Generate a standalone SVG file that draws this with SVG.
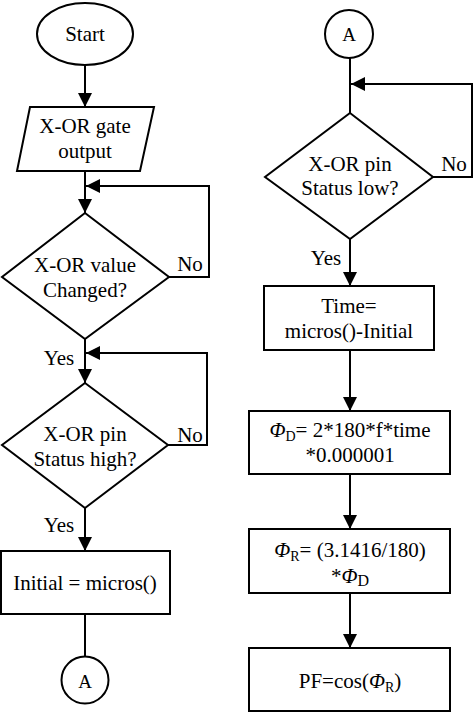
<svg xmlns="http://www.w3.org/2000/svg" width="474" height="713" viewBox="0 0 474 713">
<style>
.s{fill:#fff;stroke:#000;stroke-width:2}
.c{fill:none;stroke:#000;stroke-width:2}
text{font-family:"Liberation Serif","Times New Roman",serif;font-size:21px;fill:#000}
.m{text-anchor:middle}
.ph{font-style:italic}
.sub{font-size:14px}
</style>
<defs>
<marker id="ah" markerUnits="userSpaceOnUse" markerWidth="14" markerHeight="14" viewBox="0 0 14 14" refX="14" refY="7" orient="auto">
<path d="M0,0 L14,7 L0,14 z" fill="#000"/>
</marker>
</defs>
<g id="connectors">
<path class="c" d="M85,65 V107" marker-end="url(#ah)"/>
<path class="c" d="M85,171 V213" marker-end="url(#ah)"/>
<path class="c" d="M169,277 H209 V186 H86" marker-end="url(#ah)"/>
<path class="c" d="M85,339 V383" marker-end="url(#ah)"/>
<path class="c" d="M168,445 H207 V353 H86" marker-end="url(#ah)"/>
<path class="c" d="M85,508 V551" marker-end="url(#ah)"/>
<path class="c" d="M85,614 V657"/>
<path class="c" d="M350,58 V113"/>
<path class="c" d="M433,177 H472 V84 H351" marker-end="url(#ah)"/>
<path class="c" d="M350,239 V286" marker-end="url(#ah)"/>
<path class="c" d="M350,350 V411" marker-end="url(#ah)"/>
<path class="c" d="M350,474 V529" marker-end="url(#ah)"/>
<path class="c" d="M350,593 V648" marker-end="url(#ah)"/>
<text x="190" y="271" class="m">No</text>
<text x="59" y="365" class="m">Yes</text>
<text x="190" y="442" class="m">No</text>
<text x="59" y="532" class="m">Yes</text>
<text x="454" y="171" class="m">No</text>
<text x="326" y="265" class="m">Yes</text>
</g>
<g id="start">
<ellipse class="s" cx="85" cy="34" rx="48" ry="31"/>
<text x="85" y="41" class="m">Start</text>
</g>
<g id="xor-output">
<path class="s" d="M30,107 H154 L140,171 H17 z"/>
<text x="85" y="133" class="m">X-OR gate</text>
<text x="85" y="158" class="m">output</text>
</g>
<g id="value-changed">
<path class="s" d="M85,213 L169,277 L85,339 L2,277 z"/>
<text x="85" y="272" class="m">X-OR value</text>
<text x="85" y="297" class="m">Changed?</text>
</g>
<g id="status-high">
<path class="s" d="M85,383 L168,445 L85,508 L2,445 z"/>
<text x="85" y="441" class="m">X-OR pin</text>
<text x="85" y="466" class="m">Status high?</text>
</g>
<g id="initial">
<rect class="s" x="1" y="551" width="169" height="63"/>
<text x="85" y="590" class="m">Initial = micros()</text>
</g>
<g id="connector-a-left">
<circle class="s" cx="85" cy="680" r="23.5"/>
<text x="85" y="688" class="m" style="font-size:19px">A</text>
</g>
<g id="connector-a-right">
<circle class="s" cx="349" cy="34" r="24"/>
<text x="349" y="41" class="m" style="font-size:19px">A</text>
</g>
<g id="status-low">
<path class="s" d="M350,113 L433,177 L350,239 L265,177 z"/>
<text x="350" y="171" class="m">X-OR pin</text>
<text x="350" y="195" class="m">Status low?</text>
</g>
<g id="time">
<rect class="s" x="264" y="286" width="170" height="64"/>
<text x="349" y="313" class="m">Time=</text>
<text x="349" y="338" class="m">micros()-Initial</text>
</g>
<g id="phi-d">
<rect class="s" x="249" y="411" width="201" height="63"/>
<text x="350" y="437" class="m"><tspan class="ph">Φ</tspan><tspan class="sub" dy="4">D</tspan><tspan dy="-4">= 2*180*f*time</tspan></text>
<text x="350" y="462" class="m">*0.000001</text>
</g>
<g id="phi-r">
<rect class="s" x="249" y="529" width="201" height="64"/>
<text x="350" y="557" class="m"><tspan class="ph">Φ</tspan><tspan class="sub" dy="4">R</tspan><tspan dy="-4">= (3.1416/180)</tspan></text>
<text x="350" y="583" class="m">*<tspan class="ph">Φ</tspan><tspan class="sub" dy="3" style="font-size:16px">D</tspan></text>
</g>
<g id="pf">
<rect class="s" x="249" y="648" width="201" height="63"/>
<text x="350" y="688" class="m">PF=cos(<tspan class="ph">Φ</tspan><tspan class="sub" dy="4">R</tspan><tspan dy="-4">)</tspan></text>
</g>
</svg>
